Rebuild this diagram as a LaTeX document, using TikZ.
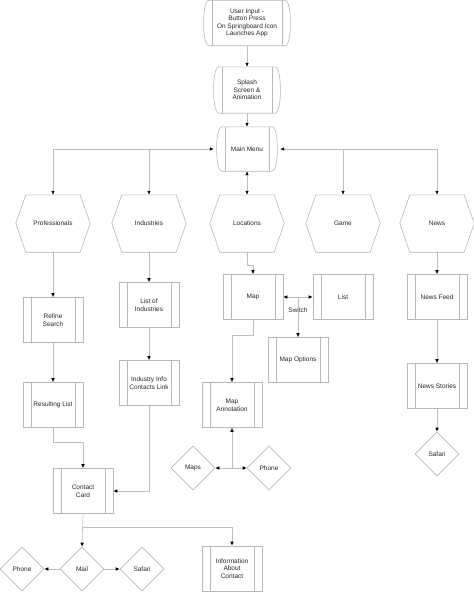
\documentclass[tikz,border=0pt]{standalone}
\usepackage{fontspec}
\setmainfont{Liberation Sans}
\usetikzlibrary{arrows.meta,shapes.geometric,calc}
\definecolor{shpc}{HTML}{B8B8B8}
\definecolor{connc}{HTML}{BDBDBD}
\definecolor{txtc}{HTML}{262626}
\newcommand\termdeco[1]{%
  \draw[shp] ([xshift=-3pt]#1.north west) -- ([xshift=3pt]#1.north east)
    .. controls ([xshift=10pt]#1.north east) and ([xshift=10pt]#1.south east) .. ([xshift=3pt]#1.south east)
    -- ([xshift=-3pt]#1.south west)
    .. controls ([xshift=-10pt]#1.south west) and ([xshift=-10pt]#1.north west) .. ([xshift=-3pt]#1.north west);
  \draw[shp] (#1.north west) -- (#1.south west) (#1.north east) -- (#1.south east);}
\newcommand\hexdeco[1]{%
  \draw[shp] (#1.west) -- ([xshift=10pt]#1.north west) -- ([xshift=-10pt]#1.north east) -- (#1.east)
    -- ([xshift=-10pt]#1.south east) -- ([xshift=10pt]#1.south west) -- cycle;}
\begin{document}
\begin{tikzpicture}[x=1pt,y=-1pt,
  every node/.style={font=\fontsize{6.5}{7.6}\selectfont, text=txtc, align=center, inner sep=0pt},
  shp/.style={draw=shpc, line width=0.6pt},
  conn/.style={draw=connc, line width=0.6pt},
  >={Latex[length=4pt,width=3.5pt,color=black]},
  term/.style={rectangle, minimum height=45},
  hexa/.style={rectangle, minimum width=74, minimum height=57},
  proc/.style={rectangle, draw=shpc, line width=0.6pt, minimum width=60, minimum height=45,
    path picture={\draw[shpc, line width=0.6pt]
      ([xshift=8pt]path picture bounding box.north west) -- ([xshift=8pt]path picture bounding box.south west)
      ([xshift=-8pt]path picture bounding box.north east) -- ([xshift=-8pt]path picture bounding box.south east);}},
  dia/.style={diamond, draw=shpc, line width=0.6pt, minimum width=44, minimum height=44, aspect=1}
]
\useasboundingbox (0,0) rectangle (474,592);
% top terminals
\node[term, minimum width=70] (ui) at (247,23) {User Input -\\Button Press\\On Springboard Icon\\Launches App};
\node[term, minimum width=50, minimum height=46] (splash) at (247,90) {Splash\\Screen \&\\Animation};
\node[term, minimum width=44, minimum height=44] (menu) at (247,149) {Main Menu};
\termdeco{ui}\termdeco{splash}\termdeco{menu}
% hexagons
\node[hexa] (prof) at (53,223.5) {Professionals};
\node[hexa] (ind) at (149,223.5) {Industries};
\node[hexa] (loc) at (247,223.5) {Locations};
\node[hexa] (game) at (343,223.5) {Game};
\node[hexa] (news) at (437,223.5) {News};
\hexdeco{prof}\hexdeco{ind}\hexdeco{loc}\hexdeco{game}\hexdeco{news}
% process boxes
\node[proc] (refine) at (53,320) {Refine\\Search};
\node[proc] (reslist) at (53,405) {Resulting List};
\node[proc] (listind) at (149,305) {List of\\Industries};
\node[proc] (indinfo) at (149,383) {Industry Info\\Contacts Link};
\node[proc] (map) at (253,297) {Map};
\node[proc] (list) at (343,297) {List};
\node[proc] (mapopt) at (298,360) {Map Options};
\node[proc] (mapann) at (232,405) {Map\\Annotation};
\node[proc] (newsfeed) at (437,297) {News Feed};
\node[proc] (newsst) at (437,386) {News Stories};
\node[proc] (card) at (83,491) {Contact\\Card};
\node[proc] (info) at (232,568.5) {Information\\About\\Contact};
% diamonds
\node[dia] (safari1) at (437,454) {Safari};
\node[dia] (maps) at (193,468) {Maps};
\node[dia] (phone1) at (269,468) {Phone};
\node[dia] (mail) at (82,569) {Mail};
\node[dia] (phone2) at (22,569) {Phone};
\node[dia] (safari2) at (142,569) {Safari};
\node (switch) at (298,310) {Switch};
% connectors
\draw[conn,->] (ui.south) -- (splash.north);
\draw[conn,->] (splash.south) -- (menu.north);
\draw[conn,<->] (prof.north) |- ([xshift=-11pt]menu.west);
\draw[conn,->] (ind.north |- menu.west) -- (ind.north);
\draw[conn,<->] (news.north) |- ([xshift=11pt]menu.east);
\draw[conn,->] (game.north |- menu.east) -- (game.north);
\draw[conn,<->] (menu.south) -- (loc.north);
\draw[conn,->] (prof.south) -- (refine.north);
\draw[conn,->] (refine.south) -- (reslist.north);
\draw[conn,->] (reslist.south) -- ++(0,14.5) -| (card.north);
\draw[conn,->] (ind.south) -- (listind.north);
\draw[conn,->] (listind.south) -- (indinfo.north);
\draw[conn,->] (indinfo.south) |- (card.east);
\draw[conn,->] (loc.south) -- ++(0,13) -| (map.north);
\draw[conn,<->] (map.east) -- (list.west);
\draw[conn,->] (mapopt.north |- map.east) -- (mapopt.north);
\draw[conn,->] (map.south) -- ++(0,15.5) -| (mapann.north);
\coordinate (mj) at (mapann.south |- maps.east);
\draw[conn,->] (mj) -- (mapann.south);
\draw[conn,->] (mj) -- (maps.east);
\draw[conn,->] (mj) -- (phone1.west);
\draw[conn,->] (news.south) -- (newsfeed.north);
\draw[conn,->] (newsfeed.south) -- (newsst.north);
\draw[conn,->] (newsst.south) -- (safari1.north);
\draw[conn,->] (card.south) -- (mail.north);
\draw[conn,->] (card.south) ++(0,13.5) -| (info.north);
\draw[conn,->] (mail.west) -- (phone2.east);
\draw[conn,->] (mail.east) -- (safari2.west);
\end{tikzpicture}
\end{document}
